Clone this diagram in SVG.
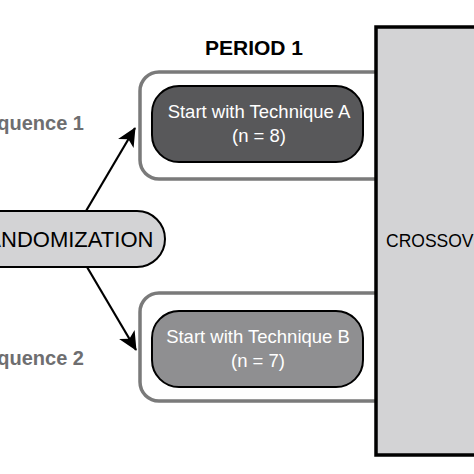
<svg xmlns="http://www.w3.org/2000/svg" width="474" height="474" viewBox="0 0 474 474">
<defs>
<style>
.outer{fill:#fff;stroke:#7a7a7a;stroke-width:3.5}
.inner{stroke:#000;stroke-width:2}
.wt{fill:#fff;font-family:"Liberation Sans",Arial,sans-serif;font-size:18.5px;text-anchor:middle}
.seq{fill:#6e6e70;font-family:"Liberation Sans",Arial,sans-serif;font-size:20px;font-weight:bold;text-anchor:end}
.conn{stroke:#000;stroke-width:2.2;fill:none}
</style>
<marker id="ah" markerUnits="userSpaceOnUse" markerWidth="24" markerHeight="24" refX="0" refY="0" viewBox="-20 -12 24 24" orient="auto">
<path d="M1,0 L-18,-9 L-13,0 L-18,9 Z" fill="#000"/>
</marker>
</defs>
<rect width="474" height="474" fill="#fff"/>
<g id="period-label">
<text x="254" y="55" font-family="'Liberation Sans',Arial,sans-serif" font-size="21" font-weight="bold" text-anchor="middle" fill="#000">PERIOD 1</text>
</g>
<g id="sequence1-box">
<rect class="outer" x="140" y="72" width="260" height="107" rx="19"/>
</g>
<g id="sequence2-box">
<rect class="outer" x="140" y="293" width="260" height="108" rx="19"/>
</g>
<g id="crossover">
<rect x="376" y="27" width="140" height="428" fill="#d3d3d5" stroke="#000" stroke-width="3.5"/>
<text x="386" y="247" font-family="'Liberation Sans',Arial,sans-serif" font-size="17.5" fill="#000">CROSSOVER</text>
</g>
<g id="technique-a">
<rect class="inner" x="152" y="86" width="211" height="76" rx="27" fill="#58585a"/>
<text class="wt" x="259" y="118">Start with Technique A</text>
<text class="wt" x="259" y="142">(n = 8)</text>
</g>
<g id="technique-b">
<rect class="inner" x="152" y="311" width="211" height="76" rx="27" fill="#8f8f91"/>
<text class="wt" x="258" y="343">Start with Technique B</text>
<text class="wt" x="258" y="367">(n = 7)</text>
</g>
<g id="randomization">
<rect x="-60" y="211" width="225" height="56" rx="28" fill="#d3d3d5" stroke="#000" stroke-width="2"/>
<text x="153.4" y="247" font-family="'Liberation Sans',Arial,sans-serif" font-size="22" text-anchor="end" fill="#000">RANDOMIZATION</text>
</g>
<g id="sequence1-label"><text class="seq" x="84" y="130">Sequence 1</text></g>
<g id="sequence2-label"><text class="seq" x="84" y="365">Sequence 2</text></g>
<g id="connectors">
<line class="conn" x1="86" y1="211" x2="135" y2="128" marker-end="url(#ah)"/>
<line class="conn" x1="87" y1="267" x2="136" y2="350" marker-end="url(#ah)"/>
</g>
</svg>
